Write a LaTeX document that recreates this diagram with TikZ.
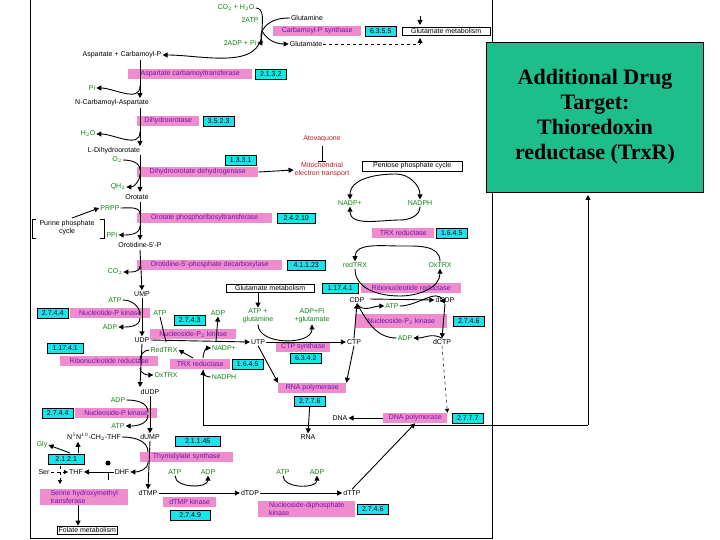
\documentclass[tikz,border=0pt]{standalone}
\usepackage{fontspec}
\setmainfont{Liberation Serif}
\setsansfont{Liberation Sans}
\usetikzlibrary{arrows.meta}
\definecolor{pinkc}{RGB}{238,140,205}
\definecolor{cyanc}{RGB}{20,230,235}
\definecolor{metc}{RGB}{20,130,20}
\definecolor{enzt}{RGB}{110,20,170}
\definecolor{boxg}{RGB}{30,190,140}
\definecolor{redc}{RGB}{190,30,40}
\tikzset{
 enz/.style={fill=pinkc,text=enzt,anchor=west,inner sep=1.2pt,minimum height=10pt,font=\sffamily\fontsize{7}{8}\selectfont},
 ecn/.style={fill=cyanc,draw=black,line width=0.4pt,text=black,anchor=west,inner sep=1.2pt,minimum height=10pt,minimum width=31pt,font=\sffamily\fontsize{7}{8}\selectfont},
 met/.style={text=metc,inner sep=1pt,font=\sffamily\fontsize{7}{8}\selectfont},
 cmp/.style={text=black,inner sep=1pt,font=\sffamily\fontsize{7}{8}\selectfont},
 mapb/.style={draw=black,fill=white,anchor=west,inner sep=1.5pt,font=\sffamily\fontsize{7}{8}\selectfont},
 ar/.style={-{Triangle[length=5pt,width=5pt]},line width=0.9pt},
 ln/.style={line width=0.9pt},
 thin/.style={-{Triangle[length=4pt,width=4pt]},line width=0.5pt}
}
\begin{document}
\begin{tikzpicture}[x=1pt,y=-1pt]
\useasboundingbox (0,0) rectangle (720,540);
\fill[white] (0,0) rectangle (720,540);
% frame
\draw[line width=1pt] (30,0) -- (30,538) -- (492,538) -- (492,0);
% top
\node[met] (co2) at (236,8) {CO$_2$ + H$_2$O};
\node[met] (atp2) at (250,20) {2ATP};
\node[cmp] (gln) at (307,18) {Glutamine};
\node[enz,minimum width=88pt] (cps) at (273,31) {Carbamoyl-P synthase};
\node[ecn] (ec1) at (365,31) {6.3.5.5};
\node[mapb,minimum width=88pt] (glum) at (402,31) {Glutamate metabolism};
\node[met] (adp2) at (240,43) {2ADP + Pi};
\node[cmp] (glu) at (306,44) {Glutamate};
\draw[ln,dashed] (glu.east) -- (420,44);
\draw[ar] (420,44) -- (420,38);
\draw[ar] (420,16) -- (420,25);
\node[cmp] (asp) at (122,55) {Aspartate + Carbamoyl-P};
\draw[ln] (co2.east) to[out=0,in=90] (262,31);
\draw[ln] (gln.west) to[out=180,in=60] (262,31);
\draw[ar] (262,31) to[out=-60,in=180] (glu.west);
\draw[ar] (262,31) to[out=-120,in=0] (adp2.east);
\draw[ar] (262,31) to[out=-90,in=0] (asp.east);
\node[enz,minimum width=124pt] (act) at (128,74) {Aspartate carbamoyltransferase};
\node[ecn] (ec2) at (255,74) {2.1.3.2};
\node[met] (pi1) at (92,88) {Pi};
\node[cmp] (ncasp) at (112,103) {N-Carbamoyl-Aspartate};
\draw[ar] (140,60) -- (140,98);
\draw[ar] (140,86) to[out=-90,in=0] (pi1.east);
\node[enz,minimum width=62pt] (dho) at (137,121) {Dihydroorotase};
\node[ecn] (ec3) at (203,121) {3.5.2.3};
\node[met] (h2o) at (88,134) {H$_2$O};
\node[cmp] (ldho) at (114,151) {L-Dihydroorotate};
\draw[ar] (140,108) -- (140,146);
\draw[ar] (140,132) to[out=-90,in=0] (h2o.east);
\node[met] (o2) at (117,160) {O$_2$};
\node[ecn] (ec4) at (225,160) {1.3.3.1};
\node[enz,minimum width=121pt] (dhodh) at (137,172) {Dihydroorotate dehydrogenase};
\node[text=redc,font=\sffamily\fontsize{7}{8}\selectfont] (atov) at (322,139) {Atovaquone};
\node[text=redc,align=center,font=\sffamily\fontsize{7}{8}\selectfont,inner sep=1pt] (mito) at (322,170) {Mitochondrial\\electron transport};
\draw[ln,-{Bar[width=8pt]}] (atov.south) -- (mito.north);
\draw[ar] (dhodh.east) -- (mito.west);
\node[mapb,minimum width=100pt] (ppc) at (362,166) {Pentose phosphate cycle};
\node[met] (qh2) at (118,187) {QH$_2$};
\node[cmp] (oro) at (137,197) {Orotate};
\draw[ar] (140,155) -- (140,192);
\draw[ln] (o2.east) to[out=0,in=90] (140,170);
\draw[ar] (140,174) to[out=-90,in=0] (qh2.east);
\node[met] (prpp) at (110,208) {PRPP};
\node[enz,minimum width=135pt] (oprt) at (137,218) {Orotate phosphoribosyltransferase};
\node[ecn,minimum width=38pt] (ec5) at (277,218) {2.4.2.10};
\node[met] (ppi) at (112,235) {PPi};
\node[cmp,align=center] (pur) at (67,228) {Purine phosphate\\cycle};
\draw[line width=0.6pt] (36,219) -- (32,219) -- (32,238) -- (36,238);
\draw[line width=0.6pt] (100,219) -- (104,219) -- (104,238) -- (100,238);
\draw[ar] (72,218) -- (prpp.west);
\draw[ln] (prpp.east) to[out=0,in=90] (140,214);
\draw[ar] (140,202) -- (140,240);
\draw[ar] (140,226) to[out=-90,in=0] (ppi.east);
\node[cmp] (omp) at (140,245) {Orotidine-5'-P};
\node[enz,minimum width=145pt] (odc) at (137,265) {Orotidine-5'-phosphate decarboxylase};
\node[ecn,minimum width=38pt] (ec6) at (287,265) {4.1.1.23};
\node[met] (co2b) at (115,272) {CO$_2$};
\node[cmp] (ump) at (142,294) {UMP};
\draw[ar] (140,250) -- (ump.north);
\draw[ar] (140,266) to[out=-90,in=0] (co2b.east);
% UMP -> UDP
\node[met] (atp3) at (115,300) {ATP};
\node[ecn] (ec7) at (37,313) {2.7.4.4};
\node[enz,minimum width=80pt] (npk1) at (70,313) {Nucleotide-P kinase};
\node[met] (adp3) at (110,327) {ADP};
\node[cmp] (udp) at (142,340) {UDP};
\draw[ar] (ump.south) -- (udp.north);
\draw[ln] (atp3.east) to[out=0,in=90] (140,315);
\draw[ar] (140,318) to[out=-90,in=0] (adp3.east);
\node[met] (atp4) at (160,313) {ATP};
\node[ecn] (ec8) at (174,320) {2.7.4.3};
\node[met] (adp4) at (218,313) {ADP};
\node[enz,minimum width=86pt] (npk2) at (150,334) {Nucleoside-P$_2$ kinase};
\node[cmp] (utp) at (258,342) {UTP};
\draw[ar] (udp.east) -- (utp.west);
\draw[ln] (atp4.south) -- (166,342);
\draw[ar] (216,342) -- (adp4.south);
% CTP synthase
\node[mapb,minimum width=88pt] (glum2) at (226,288) {Glutamate metabolism};
\node[met,align=center] (atpgln) at (258,316) {ATP +\\glutamine};
\node[met,align=center] (adpglu) at (312,316) {ADP+Pi\\+glutamate};
\draw[ar] (glum2.south -| 258,0) -- (atpgln.north);
\draw[ar] (atpgln.south) to[out=-90,in=-90] (adpglu.south);
\node[enz,minimum width=54pt] (ctps) at (276,347) {CTP synthase};
\node[ecn] (ec9) at (290,358) {6.3.4.2};
\node[cmp] (ctp) at (354,342) {CTP};
\draw[ar] (utp.east) -- (ctp.west);
% ribonucleotide reductase top
\node[ecn,minimum width=36pt] (ec10) at (322,288) {1.17.4.1};
\node[enz,minimum width=100pt] (rnr1) at (361,288) {Ribonucleotide reductase};
\node[cmp] (cdp) at (357,300) {CDP};
\node[cmp] (dcdp) at (445,300) {dCDP};
\draw[ar] (370,299) -- (dcdp.west);
\node[met] (redtrx) at (355,265) {redTRX};
\node[met] (oxtrx) at (440,265) {OxTRX};
\draw[ln] (redtrx.south) to[out=-90,in=180] (400,296);
\draw[ar] (400,296) to[out=0,in=-90] (oxtrx.south);
\node[met] (nadp) at (350,203) {NADP+};
\node[met] (nadph) at (420,203) {NADPH};
\draw[ar] (396,174) to[out=0,in=90] (nadph.north);
\draw[ar] (396,174) to[out=180,in=90] (nadp.north);
\node[enz,minimum width=62pt] (trxr1) at (372,233) {TRX reductase};
\node[ecn] (ec11) at (436,233) {1.6.4.5};
\draw[ln] (nadph.south) to[out=-90,in=0] (400,220);
\draw[ar] (400,220) to[out=180,in=-90] (nadp.south);
\draw[ln] (oxtrx.north) to[out=90,in=0] (400,246);
\draw[ar] (400,246) to[out=180,in=90] (redtrx.north);
% NDP kinase right
\node[met] (atp5) at (392,306) {ATP};
\node[enz,minimum width=92pt,minimum height=14pt] (ndk1) at (355,321) {Nucleoside-P$_2$ kinase};
\node[ecn] (ec12) at (453,321) {2.7.4.6};
\node[met] (adp5) at (405,338) {ADP};
\node[cmp] (dctp) at (442,342) {dCTP};
\draw[ar] (ctp.north) -- (cdp.south);
\draw[ar] (cdp.south) to[out=-60,in=180] (atp5.west);
\draw[ar] (atp5.east) to[out=0,in=120] (dcdp.south);
\draw[ar] (dcdp.south) -- (dctp.north);
\draw[ar] (dctp.north) to[out=150,in=0] (adp5.east);
\draw[ln] (adp5.west) to[out=180,in=-60] (cdp.south);
% RNA polymerase
\node[enz,minimum width=68pt] (rnap) at (278,388) {RNA polymerase};
\node[ecn] (ec13) at (294,401) {2.7.7.6};
\node[cmp] (rna) at (308,437) {RNA};
\draw[ar] (utp.south) -- (rnap.north west);
\draw[ar] (ctp.south) -- (rnap.north east);
\draw[ar] (ec13.south) -- (rna.north);
\node[cmp] (dna) at (340,418) {DNA};
\node[enz,minimum width=64pt] (dnap) at (383,418) {DNA polymerase};
\node[ecn] (ec14) at (452,418) {2.7.7.7};
\draw[ar] (dnap.west) -- (dna.east);
\draw[thin,dashed] (dctp.south) -- (dnap.north east);
% left RNR
\node[ecn,minimum width=36pt] (ec15) at (47,348) {1.17.4.1};
\node[enz,minimum width=98pt] (rnr2) at (60,361) {Ribonucleotide reductase};
\node[met] (redtrx2) at (164,350) {RedTRX};
\node[met] (oxtrx2) at (166,375) {OxTRX};
\node[met] (nadp2) at (224,348) {NADP+};
\node[met] (nadph2) at (224,377) {NADPH};
\node[enz,minimum width=60pt] (trxr2) at (170,364) {TRX reductase};
\node[ecn] (ec16) at (232,364) {1.6.4.5};
\node[cmp] (dudp) at (150,392) {dUDP};
\draw[ar] (udp.south) -- (140,387);
\draw[ln] (redtrx2.west) to[out=180,in=90] (140,360);
\draw[ar] (140,368) to[out=-90,in=180] (oxtrx2.west);
\draw[ar] (nadph2.west) to[out=180,in=-90] (203,370);
\draw[ar] (203,358) to[out=90,in=180] (nadp2.west);
\draw[ar] (193,358) -- (redtrx2.east);
% link TrxR to box
\coordinate (c1) at (203,425);
\coordinate (c2) at (588,425);
\draw[ln] (203,370) -- (c1) -- (c2);
\draw[ar] (c2) -- (588,195);
% dUDP->dUMP
\node[met] (adp6) at (118,400) {ADP};
\node[ecn] (ec17) at (42,413) {2.7.4.4};
\node[enz,minimum width=82pt] (npk3) at (75,413) {Nucleoside-P kinase};
\node[met] (atp6) at (118,426) {ATP};
\node[cmp] (dump) at (150,437) {dUMP};
\draw[ar] (dudp.south) -- (dump.north);
\draw[ln] (adp6.east) to[out=0,in=90] (148,412);
\draw[ar] (148,415) to[out=-90,in=0] (atp6.east);
% thymidylate synthase
\node[cmp] (mthf) at (94,437) {N$^5$N$^{10}$-CH$_2$-THF};
\node[ecn,minimum width=45pt] (ec18) at (175,441) {2.1.1.45};
\node[enz,minimum width=93pt] (tys) at (140,457) {Thymidylate synthase};
\node[met] (gly) at (42,445) {Gly};
\node[ecn,minimum width=36pt] (ec19) at (48,459) {2.1.2.1};
\node[cmp] (ser) at (44,472) {Ser};
\node[cmp] (thf) at (76,472) {THF};
\node[cmp] (dhf) at (122,472) {DHF};
\node[cmp] (dtmp) at (148,493) {dTMP};
\draw[ar] (dump.south) -- (dtmp.north);
\draw[ln] (mthf.east) to[out=0,in=90] (148,452);
\draw[ar] (148,462) to[out=-90,in=0] (dhf.east);
\draw[ar] (dhf.west) -- (thf.east);
\draw[ar] (78,453) -- (mthf.south -| 78,0);
\draw[ar] (70,453) -- (gly.east);
\draw[thin,dashed] (ser.east) -- (thf.west);
\draw[thin,dashed] (60,466) -- (60,484);
\draw[line width=0.6pt] (108,472) -- (108,480);
\fill (108,463) circle (2.5pt);
\node[enz,align=left,minimum width=88pt] (shmt) at (40,497) {Serine hydroxymethyl\\transferase};
\node[mapb] (folm) at (57,530) {Folate metabolism};
\draw[ar] (shmt.south -| 78,0) -- (folm.north -| 78,0);
% dTMP kinase
\node[met] (atp7) at (175,472) {ATP};
\node[met] (adp7) at (208,472) {ADP};
\node[cmp] (dtdp) at (250,493) {dTDP};
\draw[ar] (dtmp.east) -- (dtdp.west);
\draw[ar] (atp7.south) to[out=-90,in=-90] (adp7.south);
\node[enz,minimum width=53pt] (dtmpk) at (163,502) {dTMP kinase};
\node[ecn,minimum width=40pt] (ec20) at (170,515) {2.7.4.9};
\node[met] (atp8) at (283,472) {ATP};
\node[met] (adp8) at (317,472) {ADP};
\node[cmp] (dttp) at (352,493) {dTTP};
\draw[ar] (dtdp.east) -- (dttp.west);
\draw[ar] (atp8.south) to[out=-90,in=-90] (adp8.south);
\node[enz,align=left,minimum width=97pt] (ndk2) at (258,509) {Nucleoside-diphosphate\\kinase};
\node[ecn] (ec21) at (357,509) {2.7.4.6};
\draw[ar] (dttp.north) -- (dnap.south);
% drug target box
\node[draw=black,line width=0.8pt,fill=boxg,minimum width=217pt,minimum height=150pt,align=center,font=\bfseries\fontsize{22}{25}\selectfont] (tb) at (595,117) {Additional Drug\\Target:\\Thioredoxin\\reductase (TrxR)};
\end{tikzpicture}
\end{document}
